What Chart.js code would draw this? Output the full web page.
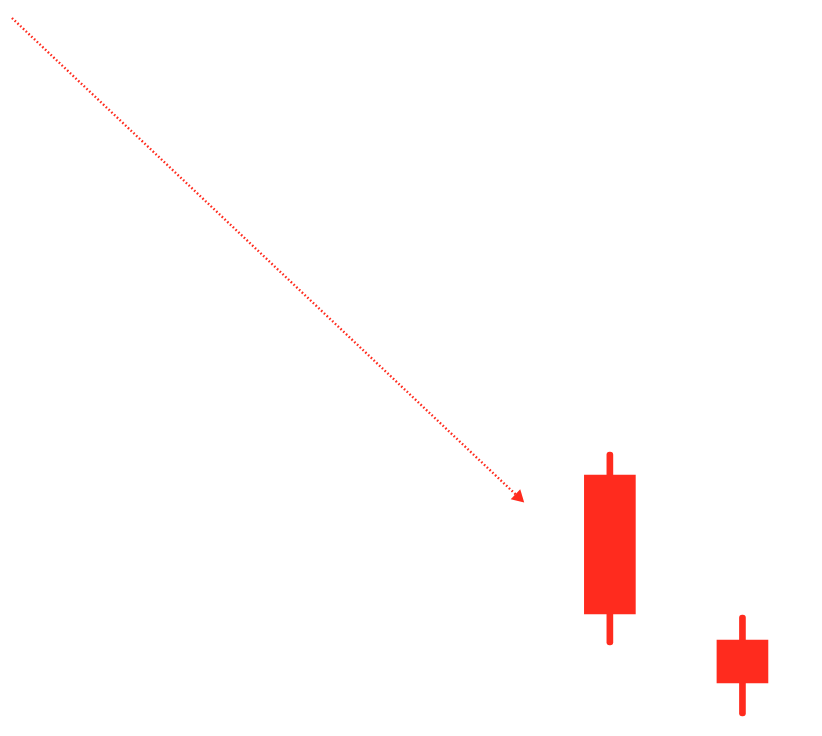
<!DOCTYPE html>
<html>
<head>
<meta charset="utf-8">
<script src="https://cdn.jsdelivr.net/npm/chart.js@4/dist/chart.umd.min.js"></script>
<style>
  html, body { margin: 0; padding: 0; background: #ffffff; }
  #wrap { width: 822px; height: 736px; }
</style>
</head>
<body>
<div id="wrap"><canvas id="candleChart"></canvas></div>
<script>
// candle positions (bar index) and prices
const candleX = [10, 11];
const opens = [26.1, 9.6];
const closes = [12.2, 5.3];
const highs = [28.4, 12.1];
const lows = [9.1, 2.0];

// dotted trend arrow: start and end
const arrowX = [5.49, 9.31];
const arrowY = [71.8, 23.9];

const red = "#ff2b1e";

const bodies = candleX.map((x, i) => ({ x: x, y: [closes[i], opens[i]] }));
const wicks = candleX.map((x, i) => ({ x: x, y: [lows[i], highs[i]] }));
const arrow = arrowX.map((x, i) => ({ x: x, y: arrowY[i] }));

// angle of the arrow in pixels, used to turn the arrowhead
function arrowAngle(chart) {
  const xs = chart.scales.x, ys = chart.scales.y;
  const dx = xs.getPixelForValue(arrowX[1]) - xs.getPixelForValue(arrowX[0]);
  const dy = ys.getPixelForValue(arrowY[1]) - ys.getPixelForValue(arrowY[0]);
  return Math.atan2(dy, dx) * 180 / Math.PI + 90;
}

const ctx = document.getElementById("candleChart").getContext("2d");
new Chart(ctx, {
  type: "bar",
  data: {
    datasets: [
      {
        label: "wick",
        data: wicks,
        backgroundColor: red,
        barThickness: 6,
        borderRadius: 3,
        borderSkipped: false,
        grouped: false,
        order: 2,
      },
      {
        label: "body",
        data: bodies,
        backgroundColor: red,
        barThickness: 51,
        grouped: false,
        order: 1,
      },
      {
        type: "line",
        label: "trend",
        data: arrow,
        borderColor: red,
        borderWidth: 2.4,
        borderDash: [1.6, 2.2],
        pointStyle: "triangle",
        pointRadius: [0, 8],
        pointBackgroundColor: red,
        pointBorderWidth: 0,
        pointRotation: (c) => arrowAngle(c.chart),
        order: 0,
      },
    ],
  },
  options: {
    responsive: true,
    maintainAspectRatio: false,
    animation: false,
    layout: { padding: 0, autoPadding: false },
    scales: {
      x: { type: "linear", min: 5.4, max: 11.6, offset: false, display: false },
      y: { min: 0, max: 73.6, display: false },
    },
    plugins: {
      legend: { display: false },
      tooltip: { enabled: false },
    },
  },
});
</script>
</body>
</html>
